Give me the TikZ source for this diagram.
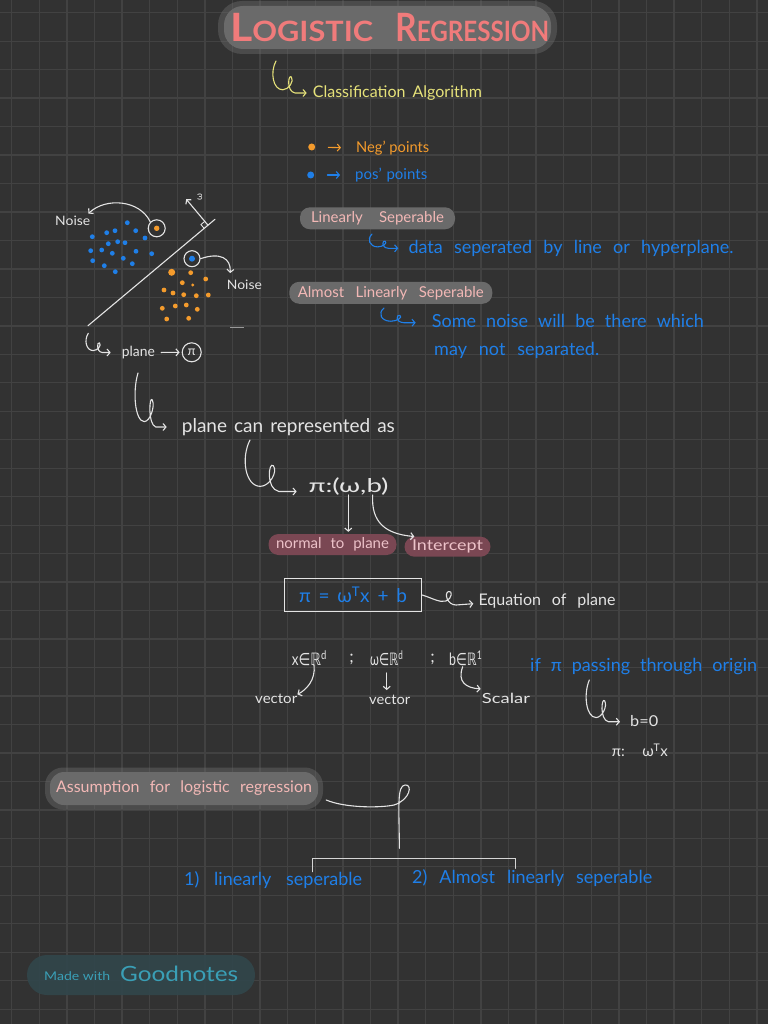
\documentclass[tikz,border=0pt]{standalone}
\usepackage{fontspec}
\usepackage{graphicx}
\setmainfont{Lato}
\newfontfamily\dv{DejaVu Sans}
\usetikzlibrary{arrows.meta,calc}
\newsavebox\fwbox
\newcommand\fw[2]{\sbox\fwbox{#2}\ifdim\wd\fwbox>#1\relax\resizebox{#1}{\height}{\usebox\fwbox}\else\makebox[#1][s]{#2}\fi}
\newcommand\fr[2]{\resizebox{#1}{\height}{#2}}
\newcommand\fsz[1]{\fontsize{#1}{#1}\selectfont}
\definecolor{bgc}{HTML}{323232}
\definecolor{gridc}{HTML}{424242}
\definecolor{wht}{HTML}{E4E4E4}
\definecolor{blu}{HTML}{1F7FE8}
\definecolor{org}{HTML}{F49B2C}
\definecolor{yel}{HTML}{E6E27A}
\definecolor{ttl}{HTML}{F07B7B}
\definecolor{pillg}{HTML}{6A6A6A}
\definecolor{pillt}{HTML}{F3B8B6}
\definecolor{marp}{HTML}{7A4753}
\definecolor{mart}{HTML}{EDC2C9}
\definecolor{badge}{HTML}{31464B}
\definecolor{badget}{HTML}{3A9FB6}
\tikzset{
 tx/.style={inner sep=0pt, anchor=west, text=#1},
 hk/.style={draw=#1, line width=1.1pt, line cap=round, line join=round, -{Straight Barb[length=3pt,width=7pt]}},
 ln/.style={draw=#1, line width=1.1pt, line cap=round},
 pillbox/.style={fill=#1, rounded corners=10pt, inner sep=0pt},
 dotn/.style={circle, fill=#1, inner sep=0pt, minimum size=7pt},
 ring/.style={circle, draw=wht, line width=1.1pt, inner sep=0pt, minimum size=#1},
 hookpath/.style={to path={let \p1=(\tikztostart), \p2=(\tikztotarget), \n1={\x2-\x1}, \n2={\y2-\y1} in
  .. controls ({\x1-0.2*\n1},{\y1+0.35*\n2}) and ({\x1-0.1*\n1},{\y1+0.9*\n2}) .. ({\x1+0.22*\n1},{\y1+0.9*\n2})
  .. controls ({\x1+0.42*\n1},{\y1+0.9*\n2}) and ({\x1+0.6*\n1},{\y1+0.62*\n2}) .. ({\x1+0.5*\n1},{\y1+0.5*\n2})
  .. controls ({\x1+0.4*\n1},{\y1+0.4*\n2}) and ({\x1+0.33*\n1},{\y1+0.95*\n2}) .. ({\x1+0.62*\n1},{\y1+\n2})
  -- (\tikztotarget)}}
}
\begin{document}
\begin{tikzpicture}[x=1pt,y=-1pt]
\useasboundingbox (0,0) rectangle (768,1024);
\fill[bgc] (0,0) rectangle (768,1024);
\foreach \i in {0,...,27} {\draw[gridc, line width=1.3pt] ({11.7+27.6*\i},0) -- ({11.7+27.6*\i},1024);}
\foreach \j in {0,...,35} {\draw[gridc, line width=1.3pt] (0,{12.7+28.47*\j}) -- (768,{12.7+28.47*\j});}

% ---------- title ----------
\fill[pillg, opacity=0.45, rounded corners=24pt] (218,1) rectangle (557,54);
\fill[pillg, rounded corners=19pt] (224,6) rectangle (551,49);
\node[inner sep=0pt, anchor=base west, text=ttl, font=\bfseries] (ttlA) at (230,42) {\fr{143pt}{\fsz{39}L\fsz{28}OGISTIC}};
\node[inner sep=0pt, anchor=base west, text=ttl, font=\bfseries] (ttlB) at (395,42) {\fr{154pt}{\fsz{39}R\fsz{28}EGRESSION}};

\node[tx=yel, font=\fsz{16}] (cls) at (312.7,93) {\fw{169pt}{Classification Algorithm}};
\coordinate (yh) at (276,61);
\draw[hk=yel] (yh) to[hookpath] ($(cls.west)+(-6,0)$);

% ---------- legend ----------
\node[dotn=org] (ld1) at (311.7,147) {};
\node[tx=org, font=\fsz{15}] (lt1) at (356,148) {\fw{73pt}{Neg' points}};
\draw[hk=org, shorten <=13pt, shorten >=15pt] (ld1) -- (lt1.west);
\node[dotn=blu] (ld2) at (310.7,175) {};
\node[tx=blu, font=\fsz{15}] (lt2) at (355,175) {\fw{72pt}{pos' points}};
\draw[hk=blu, shorten <=13pt, shorten >=15pt] (ld2) -- (lt2.west);

% ---------- linearly separable ----------
\node[pillbox=pillg, minimum width=155pt, minimum height=22pt, text=pillt, font=\fsz{15}] (ls) at (377.5,218.3) {\fw{133pt}{Linearly Seperable}};
\node[tx=blu, font=\fsz{18}] (dsc) at (408.3,248.3) {\fw{325pt}{data seperated by line or hyperplane.}};
\coordinate (bh1) at (372,234);
\draw[hk=blu] (bh1) to[hookpath] ($(dsc.west)+(-10,0)$);

\node[pillbox=pillg, minimum width=203pt, minimum height=22pt, text=pillt, font=\fsz{15}] (als) at (390.8,292.8) {\fw{186pt}{Almost Linearly Seperable}};
\node[tx=blu, font=\fsz{18}] (sn) at (431.7,320.7) {\fw{272pt}{Some noise will be there which}};
\node[tx=blu, font=\fsz{18}] (mn) at (434,350) {\fw{165pt}{may not separated.}};
\coordinate (bh2) at (384,308);
\draw[hk=blu] (bh2) to[hookpath] ($(sn.west)+(-16,2)$);

% ---------- scatter ----------
\draw[ln=wht] (88,325.7) -- (215,219.3);
\foreach \x/\y in {127.3/222.7,106.7/232.7,115/230.7,135.7/230.7,92.3/236.7,145/238,108.3/243.7,117.7/241.7,125/242.7,90.7/250.7,101.7/250,112.3/253.3,136/251.3,151.7/253.7,92.7/260.7,123.3/258.3,132.3/263.7,104.3/265.7,115.3/271.7}
  {\fill[blu] (\x,\y) circle (2.4pt);}
\foreach \x/\y in {190.7/272.7,205.7/279,182.3/282.7,164/290,173/293,183.7/294.7,196.3/295.7,208.3/295,162.3/308.3,175.3/306,186.3/305,197.3/309.3,166.7/319,188.7/318.3}
  {\fill[org] (\x,\y) circle (2.4pt);}
\fill[org] (171.7,272.3) circle (3.5pt);
\fill[org] (192.7,285) circle (1.6pt);

\node[ring=17pt] (c1) at (156.7,228.3) {};
\fill[org] (c1.center) circle (2.7pt);
\node[ring=16pt] (c2) at (192,258.7) {};
\fill[blu] (c2.center) circle (3pt);

\node[tx=wht, font=\fsz{13}] (n1) at (55,220.5) {\fr{35pt}{Noise}};
\node[tx=wht, font=\fsz{13}] (n2) at (226.7,285) {\fr{35pt}{Noise}};
\draw[hk=wht] (c1.north west) .. controls (140,200) and (106,197) .. ($(n1.north east)+(-2,-2)$);
\draw[hk=wht] (c2.east) .. controls (220,252) and (231,258) .. ($(n2.north west)+(3.5,-7)$);

\coordinate (foot) at (208,225.2);
\draw[draw=wht, line width=0.9pt] (foot) ++(-3.21,-3.84) -- ++(-3.84,3.21) -- ++(3.21,3.84);
\coordinate (wtip) at (186.2,199.2);
\draw[hk=wht] (foot) -- (wtip);
\node[text=wht, rotate=90, font=\fsz{9}, inner sep=0pt] (wlab) at (200,197) {ω};
\draw[draw=gray!80, line width=1.3pt] (230,327.7) -- (244,327.7);

% ---------- plane ----------
\node[tx=wht, font=\fsz{14}] (pl) at (121.7,352.5) {\fr{33pt}{plane}};
\node[ring=19pt, text=wht, font=\fsz{13}] (pc) at (191.7,352.3) {π};
\draw[hk=wht, shorten <=6pt, shorten >=2pt] (pl.east) -- (pc.west);
\coordinate (ph) at (88.3,333.3);
\draw[hk=wht] (ph) to[hookpath] ($(pl.west)+(-11,0)$);

\node[tx=wht, font=\fsz{19}] (pcr) at (181.7,427) {\fw{213pt}{plane can represented as}};
\coordinate (bigh) at (138,373);
\draw[hk=wht] (bigh) to[hookpath] ($(pcr.west)+(-15,0)$);

\node[tx=wht, font=\fsz{19}] (pw) at (308.3,486.5) {\fr{80pt}{π:(ω,b)}};
\coordinate (h2) at (250,440);
\draw[hk=wht] (h2) to[hookpath] ($(pw.west)+(-11.6,5)$);

\node[pillbox=marp, minimum width=128pt, minimum height=21pt, text=mart, font=\fsz{15}] (np) at (332.5,544.5) {\fw{113pt}{normal to plane}};
\node[pillbox=marp, minimum width=86pt, minimum height=20pt, text=mart, font=\fsz{15}] (ip) at (447.5,546.7) {\fr{71pt}{Intercept}};
\coordinate (wbot) at (348.3,495);
\draw[hk=wht, shorten >=2pt] (wbot) -- (wbot |- np.north);
\coordinate (bbot) at (372.7,495);
\draw[hk=wht] (bbot) .. controls (371,522) and (385,534) .. ($(ip.north west)+(10,0)$);

% ---------- equation ----------
\node[draw=wht, line width=1pt, minimum width=137.4pt, minimum height=33.4pt, inner sep=0pt, text=blu, font=\fsz{19}] (eqb) at (353,595) {\fw{108pt}{π = ω\textsuperscript{T}x + b}};
\node[tx=wht, font=\fsz{16}] (eqt) at (478.3,600.7) {\fw{137pt}{Equation of plane}};
\draw[hk=wht] (eqb.east) .. controls (432,598) and (440,603) .. (446,601) .. controls (452,599) and (453,590) .. (448.5,591.5) .. controls (444,593) and (447,605) .. (456,605) -- ($(eqt.west)+(-5,3)$);

\node[tx=wht, font=\fsz{17}] (t1) at (291.7,658) {\fr{35pt}{x{\dv ∈ℝ}\textsuperscript{d}}};
\node[text=wht, font=\fsz{17}, inner sep=0pt] (s1) at (351.7,659) {;};
\node[tx=wht, font=\fsz{17}] (t2) at (370,658) {\fr{33pt}{ω{\dv ∈ℝ}\textsuperscript{d}}};
\node[text=wht, font=\fsz{17}, inner sep=0pt] (s2) at (432.7,659) {;};
\node[tx=wht, font=\fsz{17}] (t3) at (449,658) {\fr{33pt}{b{\dv ∈ℝ}\textsuperscript{1}}};

\node[tx=wht, font=\fsz{14}] (v1) at (255,699.3) {\fr{42pt}{vector}};
\node[tx=wht, font=\fsz{14}] (v2) at (369,700) {\fr{41pt}{vector}};
\node[tx=wht, font=\fsz{14}] (sc) at (481.7,698.3) {\fr{48pt}{Scalar}};
\coordinate (a1) at (314,665);
\draw[hk=wht] (a1) .. controls (316,680) and (306,690) .. (v1.north east);
\draw[hk=wht, shorten <=7pt, shorten >=5pt] (t2.south) -- (t2.south |- v2.north);
\coordinate (a3) at (462.7,666.7);
\draw[hk=wht] (a3) .. controls (457,682) and (466,688) .. ($(sc.north west)+(-1,-4)$);

\node[tx=blu, font=\fsz{18}] (orig) at (530,666.7) {\fw{227pt}{if π passing through origin}};
\node[tx=wht, font=\fsz{15}] (b0) at (630,720.7) {\fr{28pt}{b=0}};
\node[tx=wht, font=\fsz{15}] (pwx) at (611.7,750) {\fw{56pt}{π: ω\textsuperscript{T}x}};
\coordinate (oh) at (589.3,680);
\draw[hk=wht] (oh) to[hookpath] ($(b0.west)+(-10,1)$);

% ---------- assumption ----------
\node[fill=pillg, fill opacity=0.45, rounded corners=18pt, minimum width=278pt, minimum height=42pt] (asmo) at (184,788.5) {};
\node[pillbox=pillg, rounded corners=14pt, minimum width=268pt, minimum height=33pt, text=pillt, font=\fsz{16}] (asm) at (184,788.5) {\fw{256pt}{Assumption for logistic regression}};
\coordinate (brtop) at (399.4,848.3);
\draw[ln=wht] ($(asm.east)+(8,11.5)$) .. controls (345,808) and (380,808) .. (394,805) .. controls (410,800) and (413,784) .. (405,785) .. controls (397,786) and (399,805) .. (brtop);

\node[tx=blu, font=\fsz{18}] (it1) at (184,880) {\fw{178pt}{1) linearly seperable}};
\node[tx=blu, font=\fsz{18}] (it2) at (412,878) {\fw{240pt}{2) Almost linearly seperable}};
\coordinate (brl) at (312.3,871.7);
\coordinate (brr) at (515.4,868.3);
\draw[ln=wht!85!gray] (brl) -- (brl |- 0,858.3) -- (brr |- 0,858.3) -- (brr);

% ---------- badge ----------
\node[fill=badge, fill opacity=0.9, rounded corners=20pt, minimum width=228pt, minimum height=40pt] (gn) at (141,975) {};
\node[tx=badget, font=\fsz{12}] (mw) at (44,976) {\fr{66pt}{Made with}};
\node[tx=badget, font=\fsz{21}] (gnt) at (120,974) {\fr{118pt}{Goodnotes}};
\end{tikzpicture}
\end{document}
